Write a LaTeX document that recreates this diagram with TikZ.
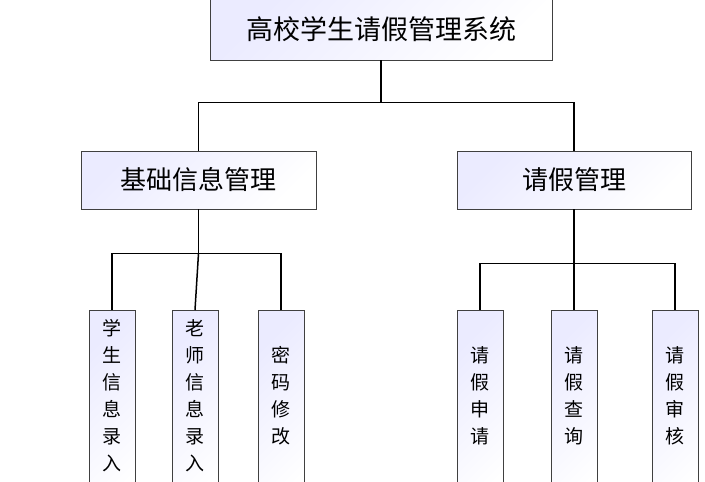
\documentclass[tikz,border=0pt]{standalone}
\usepackage{fontspec}
\setmainfont{Noto Sans CJK SC}
\begin{document}
\begin{tikzpicture}[x=1pt,y=-1pt,
  box/.style={draw=black!75,line width=0.8pt,left color=blue!8!white,right color=white,shading angle=45},
  con/.style={line width=1.5pt},
  leaf/.style={box,minimum width=46pt,minimum height=200pt,anchor=north,inner sep=0pt,font=\fontsize{19}{27}\selectfont,align=center,text depth=0pt}]
\useasboundingbox (0,0) rectangle (705,482);
\begin{scope}
\clip (0,0) rectangle (705,482);
\node[box,minimum width=342pt,minimum height=62pt,inner sep=0pt,font=\fontsize{27}{30}\selectfont] (top) at (381,29) {高校学生请假管理系统};
\node[box,minimum width=235pt,minimum height=58pt,inner sep=0pt,font=\fontsize{26}{30}\selectfont] (b) at (198.5,180) {基础信息管理};
\node[box,minimum width=234pt,minimum height=58pt,inner sep=0pt,font=\fontsize{26}{30}\selectfont] (q) at (574,180) {请假管理};
\node[leaf] (l1) at (112,310) {};
\node[leaf] (l2) at (195,310) {};
\node[leaf] (l3) at (281,310) {};
\node[leaf] (r1) at (480,310) {};
\node[leaf] (r2) at (574,310) {};
\node[leaf] (r3) at (675,310) {};
\end{scope}
\node[font=\fontsize{19}{27}\selectfont,align=center] (t1) at (112,396) {学\\生\\信\\息\\录\\入};
\node[font=\fontsize{19}{27}\selectfont,align=center] (t2) at (195,396) {老\\师\\信\\息\\录\\入};
\node[font=\fontsize{19}{27}\selectfont,align=center] (t3) at (281,396) {密\\码\\修\\改};
\node[font=\fontsize{19}{27}\selectfont,align=center] (t4) at (480,396) {请\\假\\申\\请};
\node[font=\fontsize{19}{27}\selectfont,align=center] (t5) at (574,396) {请\\假\\查\\询};
\node[font=\fontsize{19}{27}\selectfont,align=center] (t6) at (675,396) {请\\假\\审\\核};
\draw[con] (top.south) -- ++(0,42) coordinate (m) -| (b.north);
\draw[con] (m) -| (q.north);
\draw[con] (b.south) -- ++(0,44) coordinate (lm) -| (l1.north);
\draw[con] (lm) -- (l2.north);
\draw[con] (lm) -| (l3.north);
\draw[con] (q.south) -- ++(0,54) coordinate (rm) -| (r1.north);
\draw[con] (rm) -- (r2.north);
\draw[con] (rm) -| (r3.north);
\end{tikzpicture}
\end{document}
